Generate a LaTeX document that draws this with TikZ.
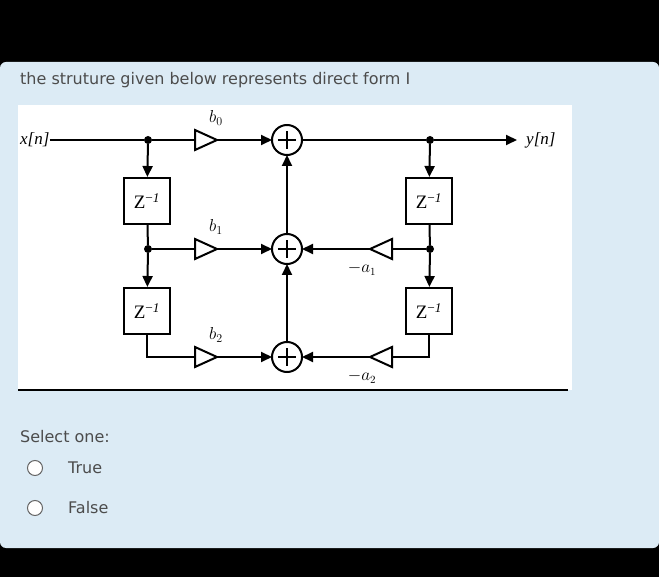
\documentclass[tikz,border=0pt]{standalone}
\usepackage{fontspec}
\setmainfont{DejaVu Sans}
\newfontfamily\serifx{Liberation Serif}
\usetikzlibrary{arrows.meta}
\definecolor{panel}{HTML}{DCEBF5}
\begin{document}
\begin{tikzpicture}[x=1pt,y=-1pt,
  wire/.style={line width=2pt},
  arr/.style={wire,-{Triangle[length=11pt,width=10pt]}},
  dot/.style={circle,fill,inner sep=0pt,minimum size=8pt},
  adder/.style={circle,draw,line width=2pt,minimum size=30pt,inner sep=0pt,fill=white},
  zbox/.style={draw,line width=2pt,minimum width=46pt,minimum height=46pt,fill=white,font=\serifx\fontsize{19}{21}\selectfont},
  lbl/.style={font=\serifx\itshape\fontsize{17}{19}\selectfont},
  txt/.style={font=\fontsize{16}{18}\selectfont,text=black!70,anchor=west,inner sep=0pt}]
\useasboundingbox (0,0) rectangle (659,577);
\fill[black] (0,0) rectangle (659,577);
\fill[panel, rounded corners=6pt] (0,62) rectangle (659,548);
\fill[white] (18,105) rectangle (572,390);
\draw[line width=1.2pt] (18,390) -- (568,390);
\node[txt] (title) at (20,80) {the struture given below represents direct form I};
\node[txt] (sel) at (20,437) {Select one:};
\node[circle,draw=black!60,line width=1pt,fill=white,minimum size=15pt,inner sep=0pt] (r1) at (35,468) {};
\node[circle,draw=black!60,line width=1pt,fill=white,minimum size=15pt,inner sep=0pt] (r2) at (35,508) {};
\node[txt] (t1) at (68,468) {True};
\node[txt] (t2) at (68,508) {False};
% diagram
\node[lbl,anchor=west,inner sep=0pt] (x) at (20,140) {x[n]};
\node[lbl,anchor=west,inner sep=0pt] (y) at (526,140) {y[n]};
\node[dot] (jl0) at (148,140) {};
\node[dot] (jl1) at (148,249) {};
\coordinate (jl2) at (148,357);
\node[dot] (jr0) at (430,140) {};
\node[dot] (jr1) at (430,249) {};
\coordinate (jr2) at (430,357);
\node[zbox] (zl1) at (147,201) {Z\textsuperscript{−\itshape 1}};
\node[zbox] (zl2) at (147,311) {Z\textsuperscript{−\itshape 1}};
\node[zbox] (zr1) at (429,201) {Z\textsuperscript{−\itshape 1}};
\node[zbox] (zr2) at (429,311) {Z\textsuperscript{−\itshape 1}};
\draw[wire] (x) -- (jl0);
\draw[arr] (jl0) -- (272,140);
\draw[arr] (jl0) -- (zl1);
\draw[wire] (zl1) -- (jl1);
\draw[arr] (jl1) -- (zl2);
\draw[arr] (jl1) -- (272,249);
\draw[wire] (zl2.south) |- (jl2);
\draw[arr] (jl2) -- (272,357);
\draw[wire] (302,140) -- (jr0);
\draw[arr] (jr0) -- (517,140);
\draw[arr] (jr0) -- (zr1);
\draw[wire] (zr1) -- (jr1);
\draw[arr] (jr1) -- (zr2);
\draw[arr] (jr1) -- (302,249);
\draw[wire] (zr2.south) |- (jr2);
\draw[arr] (jr2) -- (302,357);
\draw[arr] (287,234) -- (287,155);
\draw[arr] (287,342) -- (287,264);
\node[adder] (a0) at (287,140) {};
\node[adder] (a1) at (287,249) {};
\node[adder] (a2) at (287,357) {};
\foreach \n in {a0,a1,a2}{
  \draw[wire] ([xshift=-9pt]\n.center) -- ([xshift=9pt]\n.center);
  \draw[wire] ([yshift=-9pt]\n.center) -- ([yshift=9pt]\n.center);
}
\foreach \i/\yy in {0/140,1/249,2/357}{
  \draw[wire,fill=white] (195,\yy-10) -- (217,\yy) -- (195,\yy+10) -- cycle;
  \node[lbl] (b\i) at (216,\yy-22) {$b_{\i}$};
}
\foreach \i/\yy in {1/249,2/357}{
  \draw[wire,fill=white] (392,\yy-10) -- (370,\yy) -- (392,\yy+10) -- cycle;
  \node[font=\fontsize{16}{18}\selectfont] (na\i) at (362,\yy+20) {$-a_{\i}$};
}
\end{tikzpicture}
\end{document}
